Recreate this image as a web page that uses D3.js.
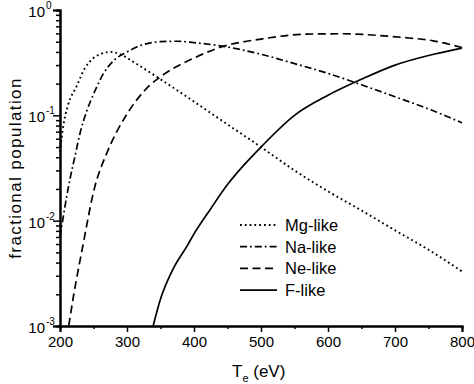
<!DOCTYPE html>
<html>
<head>
<meta charset="utf-8">
<script src="https://cdn.jsdelivr.net/npm/d3@7"></script>
<style>
  body { margin: 0; background: #fff; }
  text { font-family: "Liberation Sans", Arial, Helvetica, sans-serif; fill: #000; }
</style>
</head>
<body>
<svg id="chart" width="474" height="384"></svg>
<script>
// temperatures (eV) and fractional populations
var mgT = [200, 205, 212, 225, 237, 250, 262, 275, 290, 310, 350, 400, 450, 500, 550, 600, 650, 700, 750, 800];
var mgV = [0.045, 0.08, 0.125, 0.19, 0.28, 0.35, 0.385, 0.40, 0.38, 0.32, 0.22, 0.135, 0.082, 0.05, 0.03, 0.019, 0.0125, 0.0081, 0.0053, 0.0033];

var naT = [200, 205, 210, 215, 222, 230, 240, 252, 265, 280, 300, 320, 350, 375, 400, 450, 500, 550, 600, 650, 700, 750, 800];
var naV = [0.007, 0.011, 0.017, 0.025, 0.04, 0.068, 0.11, 0.17, 0.25, 0.33, 0.40, 0.46, 0.50, 0.505, 0.49, 0.445, 0.38, 0.31, 0.25, 0.195, 0.15, 0.115, 0.085];

var neT = [213, 220, 233, 252, 270, 297, 327, 357, 400, 443, 500, 569, 618, 673, 710, 757, 800];
var neV = [0.001, 0.0019, 0.0053, 0.021, 0.044, 0.096, 0.174, 0.25, 0.35, 0.45, 0.53, 0.59, 0.595, 0.575, 0.55, 0.51, 0.44];

var fT = [339, 350, 370, 390, 400, 425, 450, 475, 500, 550, 600, 650, 700, 750, 800];
var fV = [0.001, 0.0018, 0.0036, 0.0058, 0.0075, 0.013, 0.022, 0.034, 0.05, 0.1, 0.155, 0.22, 0.3, 0.37, 0.435];

var seriesNames = ["Mg-like", "Na-like", "Ne-like", "F-like"];
var dashes = ["1.8,3", "7,3,1.8,3", "8,4.5", null];
var widths = [1.9, 1.7, 1.7, 1.7];

var xTicks = [200, 300, 400, 500, 600, 700, 800];
var xMinor = [250, 350, 450, 550, 650, 750];
var yDecades = [-3, -2, -1, 0];

var svg = d3.select("#chart");
var x = d3.scaleLinear().domain([200, 800]).range([60, 462]);
var y = d3.scaleLog().domain([1e-3, 1]).range([326, 10]);

function pairs(ts, vs) { return ts.map(function(t, i) { return [t, vs[i]]; }); }
var series = [pairs(mgT, mgV), pairs(naT, naV), pairs(neT, neV), pairs(fT, fV)];

var line = d3.line()
  .x(function(d) { return x(d[0]); })
  .y(function(d) { return y(d[1]); })
  .curve(d3.curveMonotoneX);

svg.append("g")
  .selectAll("path")
  .data(series)
  .enter().append("path")
    .attr("d", line)
    .attr("fill", "none")
    .attr("stroke", "#000")
    .attr("stroke-width", function(d, i) { return widths[i]; })
    .attr("stroke-dasharray", function(d, i) { return dashes[i]; });

// x axis
var gx = svg.append("g").attr("transform", "translate(0," + y(1e-3) + ")");
gx.call(d3.axisBottom(x).tickValues(xTicks).tickSize(6).tickPadding(4).tickFormat(d3.format("d")));
gx.append("g").call(d3.axisBottom(x).tickValues(xMinor).tickSize(3).tickFormat(""));
gx.selectAll("path.domain").attr("stroke-width", 2);
gx.selectAll(".tick line").attr("stroke-width", 1.5);
gx.selectAll(".tick text").style("font-size", "15px").style("font-family", "Liberation Sans, Arial, sans-serif");

// y axis with decade majors and minors
var minorVals = [];
yDecades.slice(0, 3).forEach(function(e) {
  for (var m = 2; m < 10; m++) minorVals.push(m * Math.pow(10, e));
});
var gy = svg.append("g").attr("transform", "translate(" + x(200) + ",0)");
gy.call(d3.axisLeft(y).tickValues(yDecades.map(function(e) { return Math.pow(10, e); })).tickSize(7).tickFormat(""));
gy.append("g").call(d3.axisLeft(y).tickValues(minorVals).tickSize(4).tickFormat(""));
gy.selectAll("path.domain").attr("stroke-width", 2);
gy.selectAll(".tick line").attr("stroke-width", 1.5);

svg.append("g").selectAll("text")
  .data(yDecades)
  .enter().append("text")
    .attr("x", 45)
    .attr("y", function(e) { return y(Math.pow(10, e)) + 7; })
    .attr("text-anchor", "end")
    .style("font-size", "15px")
    .text("10");
svg.append("g").selectAll("text")
  .data(yDecades)
  .enter().append("text")
    .attr("x", 46)
    .attr("y", function(e) { return y(Math.pow(10, e)) - 1; })
    .style("font-size", "10px")
    .text(function(e) { return e === 0 ? "0" : "-" + Math.abs(e); });

// axis titles
svg.append("text")
  .attr("transform", "translate(21,168) rotate(-90)")
  .attr("text-anchor", "middle")
  .style("font-size", "17px")
  .style("letter-spacing", "1.4px")
  .text("fractional population");

var xt = svg.append("text")
  .attr("x", 232)
  .attr("y", 377)
  .style("font-size", "17px");
xt.append("tspan").text("T");
xt.append("tspan").attr("dy", 5).style("font-size", "11px").text("e");
xt.append("tspan").attr("dy", -5).text(" (eV)");

// legend
var legend = svg.append("g").selectAll("g")
  .data(seriesNames)
  .enter().append("g")
    .attr("transform", function(d, i) { return "translate(240," + (225 + i * 21.7) + ")"; });
legend.append("line")
  .attr("x1", 0).attr("x2", 37)
  .attr("stroke", "#000")
  .attr("stroke-width", function(d, i) { return widths[i]; })
  .attr("stroke-dasharray", function(d, i) { return dashes[i]; });
legend.append("text")
  .attr("x", 45)
  .attr("y", 6)
  .style("font-size", "16.5px")
  .text(function(d) { return d; });
</script>
</body>
</html>
